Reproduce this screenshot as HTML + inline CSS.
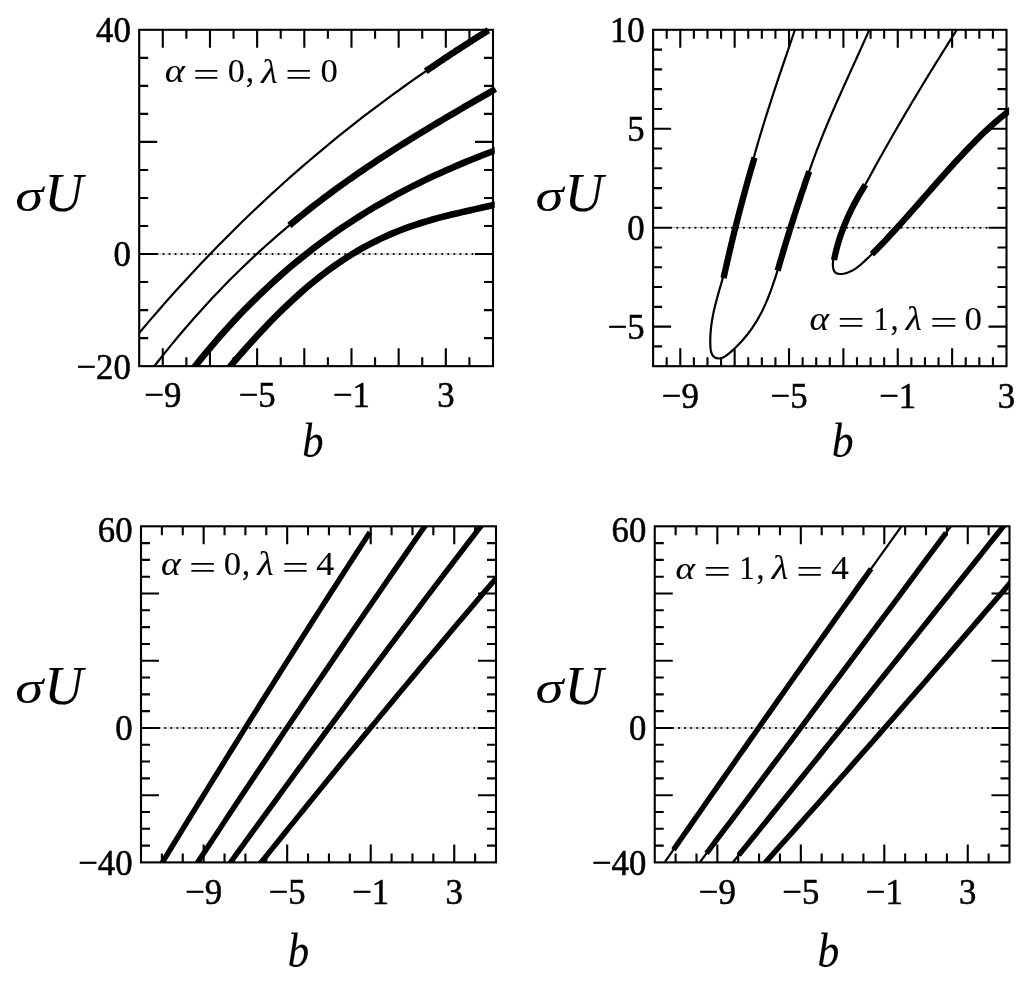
<!DOCTYPE html>
<html><head><meta charset="utf-8"><title>figure</title>
<style>html,body{margin:0;padding:0;background:#fff}svg{display:block}
text{font-family:"Liberation Serif","DejaVu Serif",serif;fill:#000}
.tl{font-size:36px;stroke:#000;stroke-width:0.55px}
.g{stroke:#000;stroke-width:0.25px}
.n{stroke:none}</style></head><body>
<svg width="1024" height="981" viewBox="0 0 1024 981">
<rect width="1024" height="981" fill="#fff"/>
<defs>
<clipPath id="c1"><rect x="139.20" y="29.80" width="355.50" height="336.35"/></clipPath>
<clipPath id="c1b"><rect x="139.20" y="29.80" width="365.80" height="336.35"/></clipPath>
<clipPath id="c2"><rect x="653.10" y="29.80" width="356.00" height="336.40"/></clipPath>
<clipPath id="c2b"><rect x="653.10" y="29.80" width="365.40" height="336.40"/></clipPath>
<clipPath id="c3"><rect x="141.00" y="526.30" width="355.00" height="336.10"/></clipPath>
<clipPath id="c3b"><rect x="141.00" y="526.30" width="367.00" height="336.10"/></clipPath>
<clipPath id="c4"><rect x="654.75" y="526.30" width="354.75" height="336.10"/></clipPath>
<clipPath id="c4b"><rect x="654.75" y="526.30" width="366.75" height="336.10"/></clipPath>
</defs>
<path d="M134.00 339.18L140.01 331.99L146.02 324.88L152.03 317.85L158.03 310.91L164.04 304.05L170.05 297.27L176.06 290.57L182.07 283.94L188.08 277.40L194.08 270.93L200.09 264.53L206.10 258.22L212.11 251.97L218.12 245.80L224.13 239.70L230.14 233.68L236.14 227.72L242.15 221.83L248.16 216.02L254.17 210.27L260.18 204.59L266.19 198.97L272.19 193.42L278.20 187.94L284.21 182.52L290.22 177.16L296.23 171.87L302.24 166.63L308.25 161.46L314.25 156.35L320.26 151.29L326.27 146.30L332.28 141.36L338.29 136.47L344.30 131.65L350.31 126.87L356.31 122.16L362.32 117.49L368.33 112.88L374.34 108.31L380.35 103.80L386.36 99.34L392.36 94.92L398.37 90.56L404.38 86.24L410.39 81.96L416.40 77.73L422.41 73.55L428.42 69.41L434.42 65.31L440.43 61.25L446.44 57.24L452.45 53.26L458.46 49.33L464.47 45.43L470.47 41.57L476.48 37.75L482.49 33.96L488.50 30.21" fill="none" stroke="#000" stroke-width="2.2" stroke-linejoin="round" clip-path="url(#c1b)"/>
<path d="M425.70 71.27L426.76 70.54L427.83 69.81L428.89 69.08L429.96 68.35L431.02 67.63L432.09 66.90L433.15 66.18L434.22 65.45L435.28 64.73L436.34 64.01L437.41 63.29L438.47 62.57L439.54 61.86L440.60 61.14L441.67 60.43L442.73 59.71L443.79 59.00L444.86 58.29L445.92 57.58L446.99 56.88L448.05 56.17L449.12 55.46L450.18 54.76L451.25 54.06L452.31 53.36L453.37 52.66L454.44 51.96L455.50 51.26L456.57 50.56L457.63 49.87L458.70 49.17L459.76 48.48L460.83 47.79L461.89 47.10L462.95 46.41L464.02 45.72L465.08 45.03L466.15 44.35L467.21 43.66L468.28 42.98L469.34 42.30L470.41 41.62L471.47 40.94L472.53 40.26L473.60 39.58L474.66 38.90L475.73 38.23L476.79 37.55L477.86 36.88L478.92 36.21L479.98 35.54L481.05 34.87L482.11 34.20L483.18 33.53L484.24 32.86L485.31 32.20L486.37 31.53L487.44 30.87L488.50 30.21" fill="none" stroke="#000" stroke-width="6.6" stroke-linejoin="round"/>
<path d="M148.00 374.46L153.89 366.78L159.78 359.25L165.66 351.86L171.55 344.61L177.44 337.50L183.33 330.53L189.22 323.69L195.11 316.98L200.99 310.40L206.88 303.95L212.77 297.62L218.66 291.41L224.55 285.32L230.43 279.35L236.32 273.49L242.21 267.74L248.10 262.10L253.99 256.56L259.87 251.13L265.76 245.80L271.65 240.56L277.54 235.43L283.43 230.38L289.32 225.42L295.20 220.56L301.09 215.78L306.98 211.08L312.87 206.46L318.76 201.91L324.64 197.45L330.53 193.05L336.42 188.73L342.31 184.47L348.20 180.28L354.08 176.15L359.97 172.08L365.86 168.06L371.75 164.10L377.64 160.19L383.53 156.34L389.41 152.52L395.30 148.76L401.19 145.03L407.08 141.34L412.97 137.69L418.85 134.08L424.74 130.49L430.63 126.94L436.52 123.41L442.41 119.90L448.29 116.42L454.18 112.95L460.07 109.50L465.96 106.06L471.85 102.64L477.74 99.22L483.62 95.81L489.51 92.40L495.40 88.99" fill="none" stroke="#000" stroke-width="2.2" stroke-linejoin="round" clip-path="url(#c1b)"/>
<path d="M289.40 225.35L292.89 222.46L296.38 219.59L299.87 216.76L303.37 213.95L306.86 211.17L310.35 208.42L313.84 205.70L317.33 203.01L320.82 200.34L324.32 197.69L327.81 195.08L331.30 192.49L334.79 189.92L338.28 187.38L341.77 184.86L345.26 182.36L348.76 179.88L352.25 177.43L355.74 175.00L359.23 172.59L362.72 170.19L366.21 167.82L369.71 165.47L373.20 163.14L376.69 160.82L380.18 158.52L383.67 156.24L387.16 153.98L390.65 151.73L394.15 149.49L397.64 147.27L401.13 145.07L404.62 142.88L408.11 140.70L411.60 138.54L415.09 136.38L418.59 134.24L422.08 132.11L425.57 129.99L429.06 127.88L432.55 125.78L436.04 123.69L439.54 121.61L443.03 119.53L446.52 117.46L450.01 115.40L453.50 113.35L456.99 111.30L460.48 109.26L463.98 107.22L467.47 105.18L470.96 103.15L474.45 101.12L477.94 99.10L481.43 97.07L484.93 95.05L488.42 93.03L491.91 91.01L495.40 88.99" fill="none" stroke="#000" stroke-width="6.6" stroke-linejoin="round"/>
<path d="M185.00 379.18L190.32 372.26L195.64 365.49L200.97 358.86L206.29 352.38L211.61 346.04L216.93 339.84L222.25 333.78L227.58 327.84L232.90 322.04L238.22 316.36L243.54 310.81L248.86 305.38L254.19 300.08L259.51 294.89L264.83 289.81L270.15 284.85L275.47 280.00L280.80 275.25L286.12 270.61L291.44 266.08L296.76 261.65L302.08 257.32L307.41 253.08L312.73 248.94L318.05 244.89L323.37 240.93L328.69 237.06L334.02 233.28L339.34 229.58L344.66 225.96L349.98 222.43L355.31 218.97L360.63 215.59L365.95 212.29L371.27 209.05L376.59 205.89L381.92 202.80L387.24 199.78L392.56 196.82L397.88 193.92L403.20 191.09L408.53 188.32L413.85 185.61L419.17 182.95L424.49 180.36L429.81 177.81L435.14 175.32L440.46 172.88L445.78 170.49L451.10 168.15L456.42 165.86L461.75 163.61L467.07 161.41L472.39 159.25L477.71 157.13L483.03 155.05L488.36 153.01L493.68 151.01L499.00 149.05" fill="none" stroke="#000" stroke-width="6.6" stroke-linejoin="round" clip-path="url(#c1)"/>
<path d="M220.00 378.57L224.73 372.88L229.46 367.25L234.19 361.68L238.92 356.18L243.64 350.76L248.37 345.42L253.10 340.17L257.83 335.00L262.56 329.92L267.29 324.94L272.02 320.05L276.75 315.27L281.47 310.59L286.20 306.02L290.93 301.55L295.66 297.20L300.39 292.96L305.12 288.83L309.85 284.82L314.58 280.93L319.31 277.15L324.03 273.49L328.76 269.95L333.49 266.53L338.22 263.23L342.95 260.04L347.68 256.97L352.41 254.02L357.14 251.18L361.86 248.45L366.59 245.84L371.32 243.33L376.05 240.94L380.78 238.65L385.51 236.46L390.24 234.37L394.97 232.38L399.69 230.48L404.42 228.68L409.15 226.96L413.88 225.32L418.61 223.75L423.34 222.26L428.07 220.84L432.80 219.48L437.53 218.18L442.25 216.93L446.98 215.73L451.71 214.57L456.44 213.44L461.17 212.34L465.90 211.26L470.63 210.19L475.36 209.13L480.08 208.07L484.81 207.00L489.54 205.91L494.27 204.80L499.00 203.65" fill="none" stroke="#000" stroke-width="6.6" stroke-linejoin="round" clip-path="url(#c1)"/>
<path d="M162.79 366.15v-18.0M162.79 29.80v18.0M186.37 366.15v-9.0M186.37 29.80v9.0M209.96 366.15v-18.0M209.96 29.80v18.0M233.55 366.15v-9.0M233.55 29.80v9.0M257.13 366.15v-18.0M257.13 29.80v18.0M280.72 366.15v-9.0M280.72 29.80v9.0M304.31 366.15v-18.0M304.31 29.80v18.0M327.89 366.15v-9.0M327.89 29.80v9.0M351.48 366.15v-18.0M351.48 29.80v18.0M375.07 366.15v-9.0M375.07 29.80v9.0M398.65 366.15v-18.0M398.65 29.80v18.0M422.24 366.15v-9.0M422.24 29.80v9.0M445.83 366.15v-18.0M445.83 29.80v18.0M469.41 366.15v-9.0M469.41 29.80v9.0M139.20 338.12h9.0M493.00 338.12h-9.0M139.20 310.09h9.0M493.00 310.09h-9.0M139.20 282.06h9.0M493.00 282.06h-9.0M139.20 254.03h18.0M493.00 254.03h-18.0M139.20 226.00h9.0M493.00 226.00h-9.0M139.20 197.97h9.0M493.00 197.97h-9.0M139.20 169.95h9.0M493.00 169.95h-9.0M139.20 141.92h18.0M493.00 141.92h-18.0M139.20 113.89h9.0M493.00 113.89h-9.0M139.20 85.86h9.0M493.00 85.86h-9.0M139.20 57.83h9.0M493.00 57.83h-9.0" fill="none" stroke="#000" stroke-width="2.1"/>
<path d="M157.38 254.03H475.00" fill="none" stroke="#000" stroke-width="2.1" stroke-linecap="round" stroke-dasharray="0.01 6.05"/>
<path d="M157.20 254.03H475.00" fill="none" stroke="#000" stroke-opacity="0.5" stroke-width="0.6"/>
<rect x="139.20" y="29.80" width="353.80" height="336.35" fill="none" stroke="#000" stroke-width="2.1"/>
<text class="tl" text-anchor="middle" transform="translate(162.79 407.45) scale(0.965 1.02)">−9</text>
<text class="tl" text-anchor="middle" transform="translate(257.13 407.45) scale(0.965 1.02)">−5</text>
<text class="tl" text-anchor="middle" transform="translate(351.48 407.45) scale(0.965 1.02)">−1</text>
<text class="tl" text-anchor="middle" transform="translate(445.83 407.45) scale(0.965 1.02)">3</text>
<text class="tl" text-anchor="end" transform="translate(130.80 42.20) scale(0.965 1.02)">40</text>
<text class="tl" text-anchor="end" transform="translate(130.80 266.43) scale(0.965 1.02)">0</text>
<text class="tl" text-anchor="end" transform="translate(130.80 378.55) scale(0.965 1.02)">−20</text>
<path d="M794.95 29.74L794.19 31.99L793.42 34.25L792.65 36.51L791.88 38.76L791.11 41.02L790.34 43.28L789.57 45.53L788.81 47.79L788.04 50.05L787.27 52.30L786.50 54.56L785.73 56.82L784.96 59.07L784.19 61.33L783.43 63.59L782.66 65.85L781.89 68.11L781.13 70.36L780.37 72.62L779.61 74.88L778.85 77.14L778.09 79.40L777.33 81.66L776.58 83.93L775.82 86.19L775.07 88.45L774.32 90.71L773.57 92.98L772.83 95.24L772.09 97.51L771.35 99.78L770.61 102.04L769.88 104.31L769.14 106.58L768.42 108.85L767.69 111.12L766.97 113.39L766.25 115.67L765.53 117.94L764.82 120.21L764.11 122.49L763.41 124.77L762.71 127.05L762.01 129.32L761.32 131.61L760.63 133.89L759.95 136.17L759.27 138.46L758.60 140.74L757.93 143.03L757.26 145.32L756.60 147.61L755.94 149.90L755.29 152.19L754.65 154.49L754.01 156.78L753.38 159.08L752.75 161.38L752.12 163.68L751.51 165.98L750.89 168.29L750.28 170.59L749.68 172.90L749.08 175.21L748.48 177.52L747.88 179.83L747.29 182.14L746.71 184.45L746.12 186.76L745.54 189.07L744.96 191.39L744.38 193.70L743.81 196.02L743.23 198.33L742.66 200.65L742.09 202.96L741.52 205.28L740.95 207.60L740.38 209.91L739.82 212.23L739.25 214.55L738.68 216.87L738.11 219.18L737.54 221.50L736.97 223.81L736.40 226.13L735.83 228.45L735.26 230.76L734.68 233.07L734.11 235.39L733.53 237.70L732.95 240.01L732.36 242.32L731.78 244.63L731.19 246.94L730.60 249.25L730.00 251.56L729.40 253.87L728.80 256.17L728.19 258.47L727.58 260.78L726.96 263.08L726.34 265.38L725.71 267.67L725.08 269.97L724.44 272.26L723.80 274.56L723.15 276.85L722.49 279.13L721.83 281.42L721.17 283.71L720.51 285.99L719.84 288.28L719.19 290.56L718.53 292.85L717.89 295.14L717.26 297.43L716.64 299.73L716.03 302.03L715.45 304.33L714.88 306.64L714.33 308.96L713.81 311.28L713.32 313.61L712.85 315.94L712.42 318.28L712.02 320.64L711.65 323.00L711.32 325.37L711.03 327.75L710.79 330.14L710.59 332.55L710.43 334.97L710.33 337.40L710.27 339.84L710.27 342.30L710.33 344.77L710.45 347.26L710.69 349.69L711.14 351.99L711.88 354.07L712.99 355.85L714.55 357.24L716.56 358.15L718.74 358.50L720.88 358.26L722.98 357.53L725.02 356.41L727.02 355.02L728.97 353.46L730.88 351.82L732.75 350.16L734.57 348.47L736.35 346.76L738.08 345.02L739.78 343.26L741.43 341.48L743.05 339.67L744.62 337.84L746.15 335.99L747.65 334.12L749.10 332.22L750.52 330.30L751.90 328.36L753.23 326.40L754.54 324.42L755.80 322.42L757.03 320.40L758.22 318.36L759.38 316.30L760.50 314.22L761.58 312.13L762.64 310.02L763.66 307.89L764.65 305.74L765.62 303.59L766.56 301.41L767.47 299.23L768.36 297.03L769.23 294.82L770.08 292.61L770.91 290.38L771.72 288.14L772.51 285.89L773.29 283.64L774.05 281.38L774.80 279.11L775.55 276.84L776.28 274.57L777.00 272.29L777.72 270.01L778.43 267.72L779.14 265.44L779.85 263.15L780.55 260.87L781.26 258.58L781.96 256.30L782.67 254.02L783.37 251.73L784.07 249.45L784.77 247.17L785.47 244.89L786.18 242.60L786.88 240.32L787.58 238.04L788.28 235.76L788.99 233.48L789.69 231.20L790.40 228.93L791.11 226.65L791.81 224.37L792.52 222.10L793.24 219.82L793.95 217.55L794.66 215.28L795.38 213.01L796.10 210.74L796.82 208.47L797.55 206.20L798.28 203.93L799.01 201.67L799.74 199.40L800.48 197.14L801.22 194.88L801.96 192.62L802.71 190.36L803.46 188.10L804.22 185.85L804.97 183.59L805.74 181.34L806.51 179.09L807.28 176.84L808.06 174.59L808.84 172.34L809.63 170.10L810.42 167.85L811.22 165.61L812.02 163.37L812.83 161.14L813.65 158.90L814.47 156.67L815.30 154.44L816.13 152.21L816.97 149.98L817.82 147.76L818.67 145.53L819.54 143.31L820.40 141.09L821.28 138.88L822.16 136.66L823.05 134.45L823.95 132.24L824.85 130.03L825.76 127.83L826.67 125.62L827.59 123.42L828.51 121.22L829.44 119.02L830.38 116.83L831.32 114.63L832.26 112.44L833.21 110.24L834.16 108.05L835.12 105.86L836.08 103.68L837.04 101.49L838.00 99.31L838.97 97.12L839.95 94.94L840.92 92.76L841.90 90.58L842.88 88.40L843.86 86.22L844.84 84.04L845.82 81.86L846.81 79.69L847.79 77.51L848.78 75.34L849.77 73.16L850.76 70.99L851.74 68.82L852.73 66.64L853.72 64.47L854.71 62.30L855.69 60.13L856.68 57.96L857.66 55.79L858.64 53.62L859.63 51.44L860.60 49.27L861.58 47.10L862.56 44.93L863.53 42.76L864.50 40.59L865.47 38.42L866.43 36.25L867.39 34.08L868.35 31.90L869.30 29.73" fill="none" stroke="#000" stroke-width="2.2" stroke-linejoin="round" clip-path="url(#c2b)"/>
<path d="M754.49 157.60L753.58 160.69L752.68 163.78L751.78 166.87L750.89 169.96L750.00 173.05L749.13 176.14L748.25 179.23L747.39 182.32L746.53 185.41L745.67 188.50L744.82 191.59L743.98 194.68L743.15 197.77L742.32 200.86L741.49 203.95L740.68 207.04L739.87 210.13L739.06 213.22L738.26 216.31L737.47 219.39L736.68 222.48L735.90 225.57L735.13 228.66L734.36 231.75L733.60 234.84L732.84 237.93L732.09 241.02L731.35 244.11L730.61 247.20L729.88 250.29L729.16 253.38L728.44 256.47L727.73 259.56L727.02 262.65L726.32 265.74L725.62 268.83L724.94 271.92L724.25 275.01L723.58 278.10" fill="none" stroke="#000" stroke-width="6.3" stroke-linejoin="round"/>
<path d="M809.18 171.40L808.29 173.94L807.41 176.49L806.54 179.03L805.66 181.57L804.79 184.12L803.93 186.66L803.07 189.21L802.21 191.75L801.36 194.29L800.51 196.84L799.66 199.38L798.82 201.92L797.98 204.47L797.15 207.01L796.32 209.55L795.50 212.10L794.68 214.64L793.86 217.18L793.05 219.73L792.24 222.27L791.43 224.82L790.63 227.36L789.84 229.90L789.04 232.45L788.25 234.99L787.47 237.53L786.69 240.08L785.91 242.62L785.14 245.16L784.37 247.71L783.61 250.25L782.85 252.79L782.09 255.34L781.34 257.88L780.59 260.43L779.84 262.97L779.10 265.51L778.37 268.06L777.63 270.60" fill="none" stroke="#000" stroke-width="6.3" stroke-linejoin="round"/>
<path d="M956.91 29.71L955.97 31.17L955.04 32.63L954.11 34.10L953.18 35.56L952.25 37.02L951.33 38.49L950.40 39.95L949.48 41.42L948.55 42.88L947.63 44.35L946.70 45.81L945.78 47.28L944.86 48.74L943.94 50.21L943.03 51.68L942.11 53.14L941.19 54.61L940.28 56.08L939.36 57.55L938.45 59.02L937.54 60.48L936.62 61.95L935.71 63.42L934.80 64.89L933.90 66.36L932.99 67.83L932.08 69.30L931.18 70.78L930.27 72.25L929.37 73.72L928.47 75.19L927.57 76.67L926.67 78.14L925.77 79.61L924.87 81.09L923.97 82.56L923.08 84.04L922.18 85.52L921.29 86.99L920.40 88.47L919.50 89.95L918.61 91.42L917.72 92.90L916.84 94.38L915.95 95.86L915.06 97.34L914.18 98.82L913.29 100.30L912.41 101.79L911.53 103.27L910.64 104.75L909.76 106.23L908.89 107.72L908.01 109.20L907.13 110.69L906.25 112.17L905.38 113.66L904.51 115.15L903.63 116.63L902.76 118.12L901.89 119.61L901.02 121.10L900.15 122.59L899.29 124.08L898.42 125.57L897.55 127.06L896.69 128.55L895.83 130.05L894.97 131.54L894.10 133.04L893.24 134.53L892.39 136.03L891.53 137.52L890.67 139.02L889.82 140.52L888.96 142.02L888.11 143.52L887.26 145.02L886.41 146.52L885.56 148.02L884.71 149.52L883.86 151.02L883.01 152.53L882.17 154.03L881.32 155.54L880.48 157.04L879.64 158.55L878.80 160.06L877.96 161.56L877.12 163.07L876.28 164.58L875.44 166.09L874.61 167.61L873.77 169.12L872.94 170.63L872.11 172.15L871.28 173.66L870.45 175.18L869.62 176.69L868.79 178.21L867.96 179.73L867.14 181.25L866.31 182.77L865.49 184.29L864.67 185.81L863.85 187.33L863.03 188.86L862.21 190.38L861.39 191.91L860.58 193.43L859.76 194.96L858.95 196.49L858.13 198.02L857.32 199.55L856.51 201.08L855.70 202.61L854.89 204.14L854.09 205.68L853.28 207.21L852.48 208.75L851.67 210.28L850.87 211.82L850.07 213.36L849.27 214.90L848.47 216.44L847.68 217.98L846.89 219.53L846.11 221.08L845.33 222.63L844.57 224.19L843.81 225.75L843.07 227.31L842.35 228.89L841.63 230.46L840.94 232.05L840.26 233.64L839.61 235.24L838.97 236.85L838.36 238.46L837.77 240.09L837.20 241.72L836.67 243.37L836.16 245.03L835.68 246.69L835.24 248.37L834.82 250.07L834.44 251.77L834.10 253.49L833.79 255.23L833.53 256.97L833.30 258.74L833.11 260.51L832.98 262.30L832.91 264.07L832.93 265.79L833.08 267.42L833.36 268.94L833.80 270.31L834.44 271.50L835.28 272.48L836.36 273.22L837.67 273.71L839.18 273.95L840.83 273.99L842.58 273.84L844.37 273.53L846.18 273.08L847.94 272.51L849.63 271.84L851.27 271.09L852.85 270.25L854.38 269.34L855.87 268.36L857.31 267.33L858.72 266.24L860.10 265.12L861.45 263.96L862.77 262.78L864.08 261.58L865.38 260.37L866.67 259.16L867.95 257.95L869.21 256.73L870.48 255.51L871.73 254.30L872.97 253.07L874.21 251.85L875.44 250.63L876.66 249.40L877.88 248.17L879.09 246.94L880.30 245.70L881.50 244.47L882.69 243.23L883.88 241.99L885.06 240.74L886.24 239.50L887.41 238.25L888.58 237.00L889.75 235.74L890.92 234.49L892.08 233.23L893.23 231.97L894.39 230.71L895.54 229.44L896.69 228.18L897.84 226.91L898.99 225.63L900.14 224.36L901.29 223.08L902.43 221.80L903.57 220.52L904.72 219.24L905.86 217.95L907.00 216.67L908.14 215.38L909.28 214.09L910.42 212.80L911.56 211.50L912.69 210.21L913.83 208.91L914.97 207.62L916.10 206.32L917.24 205.02L918.38 203.72L919.51 202.42L920.65 201.12L921.79 199.82L922.92 198.52L924.06 197.22L925.20 195.92L926.34 194.61L927.47 193.31L928.61 192.01L929.75 190.71L930.89 189.41L932.03 188.11L933.17 186.80L934.32 185.50L935.46 184.20L936.60 182.90L937.75 181.61L938.90 180.31L940.05 179.01L941.20 177.72L942.35 176.42L943.50 175.13L944.65 173.84L945.81 172.55L946.97 171.26L948.13 169.98L949.29 168.69L950.45 167.41L951.62 166.13L952.78 164.85L953.95 163.57L955.13 162.30L956.30 161.02L957.48 159.76L958.66 158.49L959.84 157.22L961.02 155.96L962.21 154.70L963.40 153.45L964.59 152.19L965.79 150.94L966.99 149.70L968.19 148.46L969.39 147.22L970.60 145.98L971.81 144.75L973.03 143.52L974.25 142.29L975.47 141.07L976.69 139.85L977.92 138.64L979.15 137.43L980.39 136.23L981.63 135.03L982.88 133.83L984.13 132.64L985.38 131.45L986.63 130.27L987.90 129.09L989.16 127.92L990.43 126.75L991.71 125.59L992.99 124.44L994.27 123.28L995.56 122.14L996.85 121.00L998.15 119.86L999.45 118.73L1000.76 117.61L1002.07 116.49L1003.39 115.38L1004.71 114.28L1006.04 113.18L1007.38 112.08" fill="none" stroke="#000" stroke-width="2.2" stroke-linejoin="round" clip-path="url(#c2b)"/>
<path d="M865.46 184.75L864.23 186.68L863.03 188.61L861.85 190.54L860.69 192.47L859.56 194.40L858.44 196.33L857.35 198.26L856.28 200.19L855.23 202.12L854.21 204.04L853.20 205.97L852.22 207.90L851.26 209.83L850.32 211.76L849.41 213.69L848.52 215.62L847.64 217.55L846.79 219.48L845.97 221.41L845.16 223.34L844.38 225.27L843.62 227.20L842.88 229.13L842.16 231.06L841.47 232.99L840.79 234.92L840.14 236.85L839.51 238.78L838.91 240.71L838.32 242.63L837.76 244.56L837.22 246.49L836.70 248.42L836.20 250.35L835.73 252.28L835.27 254.21L834.84 256.14L834.43 258.07L834.05 260.00" fill="none" stroke="#000" stroke-width="6.3" stroke-linejoin="round"/>
<path d="M871.90 254.22L874.27 251.85L876.65 249.44L879.02 247.01L881.40 244.55L883.77 242.06L886.15 239.55L888.52 237.01L890.90 234.46L893.27 231.88L895.65 229.29L898.02 226.68L900.39 224.05L902.77 221.41L905.14 218.75L907.52 216.08L909.89 213.41L912.27 210.72L914.64 208.03L917.02 205.33L919.39 202.62L921.77 199.92L924.14 197.21L926.52 194.50L928.89 191.79L931.26 189.09L933.64 186.38L936.01 183.69L938.39 181.00L940.76 178.32L943.14 175.65L945.51 172.99L947.89 170.34L950.26 167.70L952.64 165.09L955.01 162.48L957.38 159.90L959.76 157.34L962.13 154.79L964.51 152.27L966.88 149.77L969.26 147.30L971.63 144.86L974.01 142.44L976.38 140.05L978.76 137.69L981.13 135.37L983.51 133.08L985.88 130.82L988.25 128.60L990.63 126.42L993.00 124.28L995.38 122.18L997.75 120.12L1000.13 118.11L1002.50 116.14L1004.88 114.21L1007.25 112.34L1009.63 110.51L1012.00 108.74" fill="none" stroke="#000" stroke-width="6.3" stroke-linejoin="round" clip-path="url(#c2)"/>
<path d="M666.69 366.20v-9.0M666.69 29.80v9.0M680.28 366.20v-18.0M680.28 29.80v18.0M693.88 366.20v-9.0M693.88 29.80v9.0M707.47 366.20v-9.0M707.47 29.80v9.0M721.06 366.20v-9.0M721.06 29.80v9.0M734.65 366.20v-18.0M734.65 29.80v18.0M748.25 366.20v-9.0M748.25 29.80v9.0M761.84 366.20v-9.0M761.84 29.80v9.0M775.43 366.20v-9.0M775.43 29.80v9.0M789.02 366.20v-18.0M789.02 29.80v18.0M802.62 366.20v-9.0M802.62 29.80v9.0M816.21 366.20v-9.0M816.21 29.80v9.0M829.80 366.20v-9.0M829.80 29.80v9.0M843.39 366.20v-18.0M843.39 29.80v18.0M856.98 366.20v-9.0M856.98 29.80v9.0M870.58 366.20v-9.0M870.58 29.80v9.0M884.17 366.20v-9.0M884.17 29.80v9.0M897.76 366.20v-18.0M897.76 29.80v18.0M911.35 366.20v-9.0M911.35 29.80v9.0M924.95 366.20v-9.0M924.95 29.80v9.0M938.54 366.20v-9.0M938.54 29.80v9.0M952.13 366.20v-18.0M952.13 29.80v18.0M965.72 366.20v-9.0M965.72 29.80v9.0M979.32 366.20v-9.0M979.32 29.80v9.0M992.91 366.20v-9.0M992.91 29.80v9.0M653.10 346.41h9.0M1006.50 346.41h-9.0M653.10 326.62h18.0M1006.50 326.62h-18.0M653.10 306.84h9.0M1006.50 306.84h-9.0M653.10 287.05h9.0M1006.50 287.05h-9.0M653.10 267.26h9.0M1006.50 267.26h-9.0M653.10 247.47h9.0M1006.50 247.47h-9.0M653.10 227.68h18.0M1006.50 227.68h-18.0M653.10 207.89h9.0M1006.50 207.89h-9.0M653.10 188.11h9.0M1006.50 188.11h-9.0M653.10 168.32h9.0M1006.50 168.32h-9.0M653.10 148.53h9.0M1006.50 148.53h-9.0M653.10 128.74h18.0M1006.50 128.74h-18.0M653.10 108.95h9.0M1006.50 108.95h-9.0M653.10 89.16h9.0M1006.50 89.16h-9.0M653.10 69.38h9.0M1006.50 69.38h-9.0M653.10 49.59h9.0M1006.50 49.59h-9.0" fill="none" stroke="#000" stroke-width="2.1"/>
<path d="M671.28 227.68H988.50" fill="none" stroke="#000" stroke-width="2.1" stroke-linecap="round" stroke-dasharray="0.01 6.05"/>
<path d="M671.10 227.68H988.50" fill="none" stroke="#000" stroke-opacity="0.5" stroke-width="0.6"/>
<rect x="653.10" y="29.80" width="353.40" height="336.40" fill="none" stroke="#000" stroke-width="2.1"/>
<text class="tl" text-anchor="middle" transform="translate(680.28 407.50) scale(0.965 1.02)">−9</text>
<text class="tl" text-anchor="middle" transform="translate(789.02 407.50) scale(0.965 1.02)">−5</text>
<text class="tl" text-anchor="middle" transform="translate(897.76 407.50) scale(0.965 1.02)">−1</text>
<text class="tl" text-anchor="middle" transform="translate(1006.50 407.50) scale(0.965 1.02)">3</text>
<text class="tl" text-anchor="end" transform="translate(644.70 42.20) scale(0.965 1.02)">10</text>
<text class="tl" text-anchor="end" transform="translate(644.70 141.14) scale(0.965 1.02)">5</text>
<text class="tl" text-anchor="end" transform="translate(644.70 240.08) scale(0.965 1.02)">0</text>
<text class="tl" text-anchor="end" transform="translate(644.70 339.02) scale(0.965 1.02)">−5</text>
<path d="M369.93 532.20L364.32 540.86L358.71 549.52L353.11 558.18L347.52 566.85L341.94 575.51L336.37 584.17L330.81 592.83L325.25 601.49L319.71 610.15L314.18 618.82L308.65 627.48L303.14 636.14L297.63 644.80L292.14 653.46L286.65 662.12L281.17 670.78L275.70 679.45L270.25 688.11L264.80 696.77L259.36 705.43L253.93 714.09L248.51 722.75L243.09 731.42L237.69 740.08L232.30 748.74L226.92 757.40L221.54 766.06L216.18 774.72L210.82 783.38L205.48 792.05L200.14 800.71L194.81 809.37L189.49 818.03L184.19 826.69L178.89 835.35L173.60 844.02L168.32 852.68L163.04 861.34L157.78 870.00" fill="none" stroke="#000" stroke-width="5.4" stroke-linejoin="round" clip-path="url(#c3)"/>
<path d="M430.62 518.00L424.34 527.03L418.06 536.05L411.80 545.08L405.55 554.10L399.30 563.13L393.07 572.15L386.84 581.18L380.63 590.21L374.42 599.23L368.23 608.26L362.04 617.28L355.86 626.31L349.69 635.33L343.53 644.36L337.39 653.38L331.25 662.41L325.12 671.44L319.00 680.46L312.88 689.49L306.78 698.51L300.69 707.54L294.61 716.56L288.53 725.59L282.47 734.62L276.42 743.64L270.37 752.67L264.34 761.69L258.31 770.72L252.30 779.74L246.29 788.77L240.29 797.79L234.30 806.82L228.33 815.85L222.36 824.87L216.40 833.90L210.45 842.92L204.51 851.95L198.58 860.97L192.66 870.00" fill="none" stroke="#000" stroke-width="5.4" stroke-linejoin="round" clip-path="url(#c3)"/>
<path d="M487.11 518.00L480.18 527.03L473.27 536.05L466.36 545.08L459.47 554.10L452.58 563.13L445.71 572.15L438.85 581.18L432.00 590.21L425.16 599.23L418.33 608.26L411.51 617.28L404.71 626.31L397.91 635.33L391.13 644.36L384.35 653.38L377.59 662.41L370.84 671.44L364.09 680.46L357.36 689.49L350.64 698.51L343.93 707.54L337.24 716.56L330.55 725.59L323.87 734.62L317.21 743.64L310.55 752.67L303.91 761.69L297.28 770.72L290.66 779.74L284.05 788.77L277.45 797.79L270.86 806.82L264.28 815.85L257.71 824.87L251.16 833.90L244.61 842.92L238.08 851.95L231.55 860.97L225.04 870.00" fill="none" stroke="#000" stroke-width="5.4" stroke-linejoin="round" clip-path="url(#c3)"/>
<path d="M503.13 570.00L496.56 577.69L490.00 585.38L483.45 593.08L476.91 600.77L470.39 608.46L463.87 616.15L457.37 623.85L450.88 631.54L444.39 639.23L437.92 646.92L431.46 654.62L425.01 662.31L418.58 670.00L412.15 677.69L405.74 685.38L399.33 693.08L392.94 700.77L386.56 708.46L380.19 716.15L373.83 723.85L367.48 731.54L361.14 739.23L354.81 746.92L348.50 754.62L342.19 762.31L335.90 770.00L329.62 777.69L323.34 785.38L317.08 793.08L310.83 800.77L304.60 808.46L298.37 816.15L292.15 823.85L285.95 831.54L279.76 839.23L273.57 846.92L267.40 854.62L261.24 862.31L255.09 870.00" fill="none" stroke="#000" stroke-width="5.4" stroke-linejoin="round" clip-path="url(#c3)"/>
<path d="M161.88 862.40v-9.0M161.88 526.30v9.0M182.76 862.40v-9.0M182.76 526.30v9.0M203.65 862.40v-18.0M203.65 526.30v18.0M224.53 862.40v-9.0M224.53 526.30v9.0M245.41 862.40v-9.0M245.41 526.30v9.0M266.29 862.40v-9.0M266.29 526.30v9.0M287.18 862.40v-18.0M287.18 526.30v18.0M308.06 862.40v-9.0M308.06 526.30v9.0M328.94 862.40v-9.0M328.94 526.30v9.0M349.82 862.40v-9.0M349.82 526.30v9.0M370.71 862.40v-18.0M370.71 526.30v18.0M391.59 862.40v-9.0M391.59 526.30v9.0M412.47 862.40v-9.0M412.47 526.30v9.0M433.35 862.40v-9.0M433.35 526.30v9.0M454.24 862.40v-18.0M454.24 526.30v18.0M475.12 862.40v-9.0M475.12 526.30v9.0M141.00 845.60h9.0M496.00 845.60h-9.0M141.00 828.79h9.0M496.00 828.79h-9.0M141.00 811.99h9.0M496.00 811.99h-9.0M141.00 795.18h18.0M496.00 795.18h-18.0M141.00 778.38h9.0M496.00 778.38h-9.0M141.00 761.57h9.0M496.00 761.57h-9.0M141.00 744.76h9.0M496.00 744.76h-9.0M141.00 727.96h18.0M496.00 727.96h-18.0M141.00 711.15h9.0M496.00 711.15h-9.0M141.00 694.35h9.0M496.00 694.35h-9.0M141.00 677.54h9.0M496.00 677.54h-9.0M141.00 660.74h18.0M496.00 660.74h-18.0M141.00 643.93h9.0M496.00 643.93h-9.0M141.00 627.13h9.0M496.00 627.13h-9.0M141.00 610.32h9.0M496.00 610.32h-9.0M141.00 593.52h18.0M496.00 593.52h-18.0M141.00 576.71h9.0M496.00 576.71h-9.0M141.00 559.91h9.0M496.00 559.91h-9.0M141.00 543.11h9.0M496.00 543.11h-9.0" fill="none" stroke="#000" stroke-width="2.1"/>
<path d="M159.18 727.96H478.00" fill="none" stroke="#000" stroke-width="2.1" stroke-linecap="round" stroke-dasharray="0.01 6.05"/>
<path d="M159.00 727.96H478.00" fill="none" stroke="#000" stroke-opacity="0.5" stroke-width="0.6"/>
<rect x="141.00" y="526.30" width="355.00" height="336.10" fill="none" stroke="#000" stroke-width="2.1"/>
<text class="tl" text-anchor="middle" transform="translate(203.65 903.70) scale(0.965 1.02)">−9</text>
<text class="tl" text-anchor="middle" transform="translate(287.18 903.70) scale(0.965 1.02)">−5</text>
<text class="tl" text-anchor="middle" transform="translate(370.71 903.70) scale(0.965 1.02)">−1</text>
<text class="tl" text-anchor="middle" transform="translate(454.24 903.70) scale(0.965 1.02)">3</text>
<text class="tl" text-anchor="end" transform="translate(132.60 541.80) scale(0.965 1.02)">60</text>
<text class="tl" text-anchor="end" transform="translate(132.60 740.36) scale(0.965 1.02)">0</text>
<text class="tl" text-anchor="end" transform="translate(132.60 874.80) scale(0.965 1.02)">−40</text>
<path d="M907.32 518.00L900.87 527.03L894.42 536.05L887.98 545.08L881.55 554.10L875.12 563.13L868.69 572.15L862.27 581.18L855.85 590.21L849.44 599.23L843.03 608.26L836.63 617.28L830.24 626.31L823.85 635.33L817.46 644.36L811.08 653.38L804.70 662.41L798.33 671.44L791.97 680.46L785.61 689.49L779.25 698.51L772.90 707.54L766.55 716.56L760.21 725.59L753.87 734.62L747.54 743.64L741.22 752.67L734.90 761.69L728.58 770.72L722.27 779.74L715.96 788.77L709.66 797.79L703.37 806.82L697.07 815.85L690.79 824.87L684.51 833.90L678.23 842.92L671.96 851.95L665.69 860.97L659.43 870.00" fill="none" stroke="#000" stroke-width="2.2" stroke-linejoin="round" clip-path="url(#c4)"/>
<path d="M871.11 568.75L865.98 575.95L860.86 583.16L855.74 590.36L850.62 597.57L845.51 604.77L840.40 611.97L835.29 619.18L830.19 626.38L825.08 633.58L819.99 640.79L814.89 647.99L809.80 655.20L804.71 662.40L799.62 669.60L794.54 676.81L789.46 684.01L784.39 691.22L779.31 698.42L774.25 705.62L769.18 712.83L764.12 720.03L759.06 727.23L754.00 734.44L748.95 741.64L743.89 748.85L738.85 756.05L733.80 763.25L728.76 770.46L723.72 777.66L718.69 784.87L713.66 792.07L708.63 799.27L703.61 806.48L698.58 813.68L693.56 820.88L688.55 828.09L683.54 835.29L678.53 842.50L673.52 849.70" fill="none" stroke="#000" stroke-width="5.4" stroke-linejoin="round"/>
<path d="M957.11 518.00L950.41 527.03L943.71 536.05L937.00 545.08L930.29 554.10L923.58 563.13L916.87 572.15L910.16 581.18L903.44 590.21L896.72 599.23L890.00 608.26L883.28 617.28L876.55 626.31L869.82 635.33L863.09 644.36L856.36 653.38L849.62 662.41L842.88 671.44L836.14 680.46L829.40 689.49L822.65 698.51L815.90 707.54L809.15 716.56L802.40 725.59L795.64 734.62L788.89 743.64L782.13 752.67L775.36 761.69L768.60 770.72L761.83 779.74L755.06 788.77L748.29 797.79L741.51 806.82L734.73 815.85L727.95 824.87L721.17 833.90L714.39 842.92L707.60 851.95L700.81 860.97L694.02 870.00" fill="none" stroke="#000" stroke-width="2.2" stroke-linejoin="round" clip-path="url(#c4)"/>
<path d="M946.12 532.80L940.01 541.02L933.91 549.24L927.80 557.46L921.69 565.68L915.57 573.90L909.46 582.12L903.34 590.34L897.22 598.56L891.10 606.78L884.97 615.01L878.85 623.23L872.72 631.45L866.59 639.67L860.46 647.89L854.32 656.11L848.19 664.33L842.05 672.55L835.91 680.77L829.77 688.99L823.63 697.21L817.48 705.43L811.33 713.65L805.18 721.87L799.03 730.09L792.88 738.31L786.72 746.53L780.56 754.75L774.40 762.97L768.24 771.19L762.08 779.42L755.91 787.64L749.74 795.86L743.57 804.08L737.40 812.30L731.22 820.52L725.05 828.74L718.87 836.96L712.69 845.18L706.51 853.40" fill="none" stroke="#000" stroke-width="5.4" stroke-linejoin="round"/>
<path d="M1010.00 518.00L1002.81 527.03L995.62 536.05L988.43 545.08L981.23 554.10L974.02 563.13L966.82 572.15L959.61 581.18L952.39 590.21L945.17 599.23L937.94 608.26L930.72 617.28L923.48 626.31L916.25 635.33L909.00 644.36L901.76 653.38L894.51 662.41L887.26 671.44L880.00 680.46L872.74 689.49L865.47 698.51L858.20 707.54L850.92 716.56L843.64 725.59L836.36 734.62L829.07 743.64L821.78 752.67L814.49 761.69L807.19 770.72L799.88 779.74L792.57 788.77L785.26 797.79L777.95 806.82L770.62 815.85L763.30 824.87L755.97 833.90L748.64 842.92L741.30 851.95L733.96 860.97L726.61 870.00" fill="none" stroke="#000" stroke-width="2.2" stroke-linejoin="round" clip-path="url(#c4)"/>
<path d="M1010.00 518.00L1003.12 526.64L996.24 535.28L989.35 543.92L982.46 552.56L975.56 561.21L968.66 569.85L961.76 578.49L954.85 587.13L947.94 595.77L941.02 604.41L934.10 613.05L927.18 621.69L920.26 630.33L913.33 638.97L906.39 647.62L899.45 656.26L892.51 664.90L885.57 673.54L878.62 682.18L871.66 690.82L864.71 699.46L857.74 708.10L850.78 716.74L843.81 725.38L836.84 734.03L829.86 742.67L822.88 751.31L815.90 759.95L808.91 768.59L801.92 777.23L794.92 785.87L787.92 794.51L780.92 803.15L773.91 811.79L766.90 820.44L759.89 829.08L752.87 837.72L745.84 846.36L738.82 855.00" fill="none" stroke="#000" stroke-width="5.4" stroke-linejoin="round" clip-path="url(#c4)"/>
<path d="M1016.91 575.00L1010.45 582.56L1003.98 590.13L997.50 597.69L991.02 605.26L984.52 612.82L978.02 620.38L971.51 627.95L964.99 635.51L958.46 643.08L951.92 650.64L945.37 658.21L938.82 665.77L932.25 673.33L925.68 680.90L919.10 688.46L912.51 696.03L905.91 703.59L899.31 711.15L892.69 718.72L886.07 726.28L879.43 733.85L872.79 741.41L866.14 748.97L859.48 756.54L852.81 764.10L846.14 771.67L839.45 779.23L832.76 786.79L826.06 794.36L819.35 801.92L812.63 809.49L805.90 817.05L799.16 824.62L792.42 832.18L785.66 839.74L778.90 847.31L772.13 854.87L765.35 862.44L758.56 870.00" fill="none" stroke="#000" stroke-width="5.4" stroke-linejoin="round" clip-path="url(#c4)"/>
<path d="M675.62 862.40v-9.0M675.62 526.30v9.0M696.49 862.40v-9.0M696.49 526.30v9.0M717.35 862.40v-18.0M717.35 526.30v18.0M738.22 862.40v-9.0M738.22 526.30v9.0M759.09 862.40v-9.0M759.09 526.30v9.0M779.96 862.40v-9.0M779.96 526.30v9.0M800.82 862.40v-18.0M800.82 526.30v18.0M821.69 862.40v-9.0M821.69 526.30v9.0M842.56 862.40v-9.0M842.56 526.30v9.0M863.43 862.40v-9.0M863.43 526.30v9.0M884.29 862.40v-18.0M884.29 526.30v18.0M905.16 862.40v-9.0M905.16 526.30v9.0M926.03 862.40v-9.0M926.03 526.30v9.0M946.90 862.40v-9.0M946.90 526.30v9.0M967.76 862.40v-18.0M967.76 526.30v18.0M988.63 862.40v-9.0M988.63 526.30v9.0M654.75 845.60h9.0M1009.50 845.60h-9.0M654.75 828.79h9.0M1009.50 828.79h-9.0M654.75 811.99h9.0M1009.50 811.99h-9.0M654.75 795.18h18.0M1009.50 795.18h-18.0M654.75 778.38h9.0M1009.50 778.38h-9.0M654.75 761.57h9.0M1009.50 761.57h-9.0M654.75 744.76h9.0M1009.50 744.76h-9.0M654.75 727.96h18.0M1009.50 727.96h-18.0M654.75 711.15h9.0M1009.50 711.15h-9.0M654.75 694.35h9.0M1009.50 694.35h-9.0M654.75 677.54h9.0M1009.50 677.54h-9.0M654.75 660.74h18.0M1009.50 660.74h-18.0M654.75 643.93h9.0M1009.50 643.93h-9.0M654.75 627.13h9.0M1009.50 627.13h-9.0M654.75 610.32h9.0M1009.50 610.32h-9.0M654.75 593.52h18.0M1009.50 593.52h-18.0M654.75 576.71h9.0M1009.50 576.71h-9.0M654.75 559.91h9.0M1009.50 559.91h-9.0M654.75 543.11h9.0M1009.50 543.11h-9.0" fill="none" stroke="#000" stroke-width="2.1"/>
<path d="M672.93 727.96H991.50" fill="none" stroke="#000" stroke-width="2.1" stroke-linecap="round" stroke-dasharray="0.01 6.05"/>
<path d="M672.75 727.96H991.50" fill="none" stroke="#000" stroke-opacity="0.5" stroke-width="0.6"/>
<rect x="654.75" y="526.30" width="354.75" height="336.10" fill="none" stroke="#000" stroke-width="2.1"/>
<text class="tl" text-anchor="middle" transform="translate(717.35 903.70) scale(0.965 1.02)">−9</text>
<text class="tl" text-anchor="middle" transform="translate(800.82 903.70) scale(0.965 1.02)">−5</text>
<text class="tl" text-anchor="middle" transform="translate(884.29 903.70) scale(0.965 1.02)">−1</text>
<text class="tl" text-anchor="middle" transform="translate(967.76 903.70) scale(0.965 1.02)">3</text>
<text class="tl" text-anchor="end" transform="translate(646.35 541.80) scale(0.965 1.02)">60</text>
<text class="tl" text-anchor="end" transform="translate(646.35 740.36) scale(0.965 1.02)">0</text>
<text class="tl" text-anchor="end" transform="translate(646.35 874.80) scale(0.965 1.02)">−40</text>
<text transform="matrix(0.5684 0 0 0.4654 15.19 211.23)" font-size="100" class="n" font-style="italic">σ</text>
<text transform="matrix(0.5341 0 0 0.5500 44.59 211.35)" font-size="100" class="g" font-style="italic">U</text>
<text transform="matrix(0.5684 0 0 0.4654 535.39 211.23)" font-size="100" class="n" font-style="italic">σ</text>
<text transform="matrix(0.5341 0 0 0.5500 564.79 211.35)" font-size="100" class="g" font-style="italic">U</text>
<text transform="matrix(0.5684 0 0 0.4654 15.19 703.43)" font-size="100" class="n" font-style="italic">σ</text>
<text transform="matrix(0.5341 0 0 0.5500 44.59 703.55)" font-size="100" class="g" font-style="italic">U</text>
<text transform="matrix(0.5684 0 0 0.4654 535.39 703.43)" font-size="100" class="n" font-style="italic">σ</text>
<text transform="matrix(0.5341 0 0 0.5500 564.79 703.55)" font-size="100" class="g" font-style="italic">U</text>
<text transform="matrix(0.4267 0 0 0.4771 302.19 457.12)" font-size="100" class="g" font-style="italic">b</text>
<text transform="matrix(0.4372 0 0 0.4771 831.85 457.12)" font-size="100" class="g" font-style="italic">b</text>
<text transform="matrix(0.4279 0 0 0.4800 287.79 967.32)" font-size="100" class="g" font-style="italic">b</text>
<text transform="matrix(0.4360 0 0 0.4800 817.51 967.32)" font-size="100" class="g" font-style="italic">b</text>
<text transform="matrix(0.3824 0 0 0.3333 164.85 82.27)" font-size="100" class="g" font-style="italic">α</text>
<text transform="matrix(0.4702 0 0 0.3320 192.95 85.57)" font-size="100" class="g" font-style="normal">=</text>
<text transform="matrix(0.3405 0 0 0.3313 227.74 82.24)" font-size="100" class="g" font-style="normal">0</text>
<text transform="matrix(0.3333 0 0 0.3600 245.67 82.10)" font-size="100" class="g" font-style="normal">,</text>
<text transform="matrix(0.3767 0 0 0.3400 261.15 82.60)" font-size="100" class="g" font-style="italic">λ</text>
<text transform="matrix(0.4787 0 0 0.3320 285.31 85.57)" font-size="100" class="g" font-style="normal">=</text>
<text transform="matrix(0.3476 0 0 0.3313 320.51 82.24)" font-size="100" class="g" font-style="normal">0</text>
<text transform="matrix(0.3725 0 0 0.3333 809.58 330.17)" font-size="100" class="g" font-style="italic">α</text>
<text transform="matrix(0.4787 0 0 0.3320 837.61 333.97)" font-size="100" class="g" font-style="normal">=</text>
<text transform="matrix(0.3057 0 0 0.3288 873.45 330.00)" font-size="100" class="g" font-style="normal">1</text>
<text transform="matrix(0.3267 0 0 0.3600 890.49 329.60)" font-size="100" class="g" font-style="normal">,</text>
<text transform="matrix(0.3721 0 0 0.3357 905.84 330.20)" font-size="100" class="g" font-style="italic">λ</text>
<text transform="matrix(0.4872 0 0 0.3320 929.96 333.97)" font-size="100" class="g" font-style="normal">=</text>
<text transform="matrix(0.3500 0 0 0.3343 964.60 330.03)" font-size="100" class="g" font-style="normal">0</text>
<text transform="matrix(0.3755 0 0 0.3312 160.97 575.17)" font-size="100" class="g" font-style="italic">α</text>
<text transform="matrix(0.4830 0 0 0.3280 188.99 578.69)" font-size="100" class="g" font-style="normal">=</text>
<text transform="matrix(0.3476 0 0 0.3388 223.81 575.22)" font-size="100" class="g" font-style="normal">0</text>
<text transform="matrix(0.3200 0 0 0.3600 242.12 575.10)" font-size="100" class="g" font-style="normal">,</text>
<text transform="matrix(0.3791 0 0 0.3357 257.16 575.30)" font-size="100" class="g" font-style="italic">λ</text>
<text transform="matrix(0.4766 0 0 0.3280 282.02 578.69)" font-size="100" class="g" font-style="normal">=</text>
<text transform="matrix(0.3609 0 0 0.3385 316.28 575.20)" font-size="100" class="g" font-style="normal">4</text>
<text transform="matrix(0.3706 0 0 0.3229 675.49 579.08)" font-size="100" class="g" font-style="italic">α</text>
<text transform="matrix(0.4862 0 0 0.3280 703.47 583.09)" font-size="100" class="g" font-style="normal">=</text>
<text transform="matrix(0.3086 0 0 0.3288 739.22 579.00)" font-size="100" class="g" font-style="normal">1</text>
<text transform="matrix(0.3200 0 0 0.3600 756.42 578.60)" font-size="100" class="g" font-style="normal">,</text>
<text transform="matrix(0.3814 0 0 0.3271 771.66 579.20)" font-size="100" class="g" font-style="italic">λ</text>
<text transform="matrix(0.4766 0 0 0.3280 796.32 583.09)" font-size="100" class="g" font-style="normal">=</text>
<text transform="matrix(0.3522 0 0 0.3369 831.20 579.20)" font-size="100" class="g" font-style="normal">4</text>
</svg></body></html>
